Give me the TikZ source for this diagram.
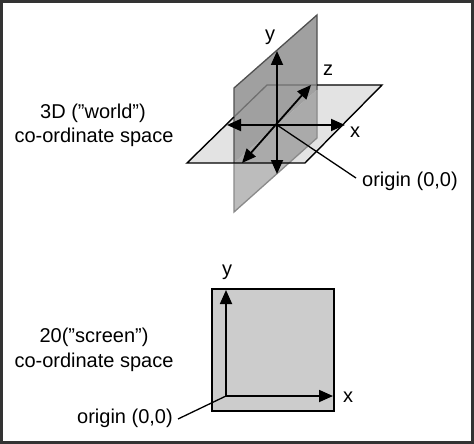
\documentclass[tikz,border=0pt]{standalone}
\usepackage{fontspec}
\setmainfont{Liberation Sans}
\usetikzlibrary{arrows.meta}
\definecolor{framecol}{HTML}{333333}
\definecolor{hcol}{HTML}{E3E3E3}
\definecolor{vup}{HTML}{A0A0A0}
\definecolor{vlow}{HTML}{BCBCBC}
\definecolor{vmid}{HTML}{AAAAAA}
\definecolor{sqcol}{HTML}{CCCCCC}
\definecolor{vedge}{HTML}{505050}
\definecolor{vedgelow}{HTML}{8A8A8A}
\definecolor{hback}{HTML}{707070}
\begin{document}
\begin{tikzpicture}[x=1pt,y=-1pt,
  axis/.style={line width=1.8pt, black},
  tipone/.style={-{Triangle[length=14pt,width=12pt]}},
  tiptwo/.style={{Triangle[length=14pt,width=12pt]}-{Triangle[length=14pt,width=12pt]}},
  leader/.style={line width=1.3pt, black},
  lbl/.style={inner sep=0pt, font=\fontsize{20}{24}\selectfont},
]
\useasboundingbox (0,0) rectangle (474,444);
\fill[white] (0,0) rectangle (474,444);
\draw[line width=3pt, framecol] (1.5,1.5) rectangle (472.5,442.5);

% ---------- 3D planes ----------
\fill[hcol] (187,163) -- (305,163) -- (382,85) -- (267,85) -- cycle;
\fill[vup] (234,88) -- (317,15) -- (317,90) -- (234,163) -- cycle;
\fill[vlow] (234,163) -- (317,90) -- (317,138) -- (234,212) -- cycle;
\begin{scope}
  \clip (187,163) -- (305,163) -- (382,85) -- (267,85) -- cycle;
  \fill[vmid] (234,163) -- (317,90) -- (317,138) -- (234,212) -- cycle;
\end{scope}
\draw[line width=1.3pt, hback] (317,85) -- (267,85) -- (234,117);
\draw[line width=1.3pt, vedge] (234,163) -- (234,88) -- (317,15) -- (317,90);
\draw[line width=1.3pt, vedgelow] (317,90) -- (317,138) -- (234,212) -- (234,163);
\draw[line width=1.4pt, black] (234,117) -- (187,163) -- (305,163) -- (382,85) -- (317,85);

% ---------- 3D axes ----------
\coordinate (O3) at (277,125);
\coordinate (ytop) at (277,51);
\coordinate (ybot) at (277,174);
\coordinate (xl) at (227,125);
\coordinate (xr) at (345,125);
\coordinate (zl) at (242,163);
\coordinate (zr) at (311,85);
\draw[axis, tiptwo] (ybot) -- (ytop);
\draw[axis, tiptwo] (xl) -- (xr);
\draw[axis, tiptwo] (zl) -- (zr);

\node[lbl, anchor=base] (ylab3) at (270,41) {y};
\node[lbl, anchor=base] (zlab3) at (328,76) {z};
\node[lbl, anchor=base] (xlab3) at (355,137) {x};

\node[lbl, anchor=base west] (orig3) at (362,186) {origin (0,0)};
\coordinate (orig3end) at (356,178);
\draw[leader] (O3) -- (orig3end);

\node[lbl, anchor=base] (world1) at (93,118) {3D ("world")};
\node[lbl, anchor=base] (world2) at (94,142) {co-ordinate space};

% ---------- 2D ----------
\draw[line width=2.6pt, black, fill=sqcol] (212,289) rectangle (334,411);
\coordinate (O2) at (226,396);
\coordinate (y2top) at (226,290);
\coordinate (x2r) at (333,396);
\draw[axis, tipone] (O2) -- (y2top);
\draw[axis, tipone] (O2) -- (x2r);
\node[lbl, anchor=base] (ylab2) at (227,275) {y};
\node[lbl, anchor=base] (xlab2) at (348,402) {x};

\node[lbl, anchor=base] (screen1) at (94,342) {20("screen")};
\node[lbl, anchor=base] (screen2) at (94,367) {co-ordinate space};
\node[lbl, anchor=base east] (orig2) at (173,423) {origin (0,0)};
\coordinate (orig2end) at (178,419);
\draw[leader] (O2) -- (orig2end);
\end{tikzpicture}
\end{document}
